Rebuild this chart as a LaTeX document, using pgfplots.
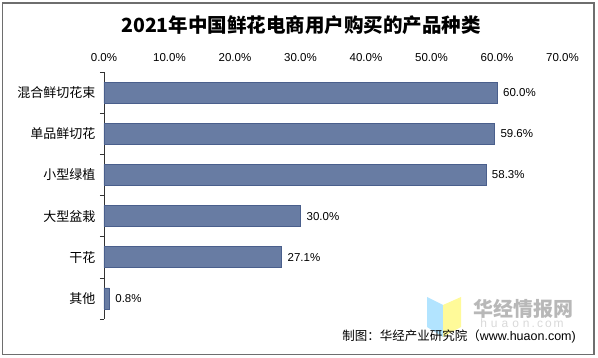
\documentclass[border=0pt]{standalone}
\usepackage{fontspec}
\setmainfont{Liberation Sans}
\newfontfamily\cjk{Noto Sans CJK SC}
\usepackage{pgfplots}
\pgfplotsset{compat=1.18}
\definecolor{barfill}{HTML}{687CA3}
\definecolor{barline}{HTML}{4A5F8C}
\definecolor{frame}{HTML}{6E6E6E}
\begin{document}
\begin{tikzpicture}[x=1pt,y=1pt]
\useasboundingbox (0,0) rectangle (598,358);
\draw[frame, line width=1.2pt] (2.5,3.5) rectangle (594,355);
\node[font=\cjk\bfseries\fontsize{19.5}{22}\selectfont] at (301,333) {2021年中国鲜花电商用户购买的产品种类};
% watermark
\fill[blue!35!cyan!30] (427,61) -- (443,53) -- (443,21) -- (427,31) -- cycle;
\fill[yellow!40] (443,53) -- (461,61) -- (461,31) -- (443,21) -- cycle;
\node[font=\cjk\bfseries\fontsize{20}{22}\selectfont, text=black!28] at (523.5,49.5) {华经情报网};
\node[font=\fontsize{12}{14}\selectfont, text=black!15] at (522,35) {h\,\,u\,\,a\,\,o\,\,n\,.\,c\,o\,m};
\node[anchor=east, font=\fontsize{12.5}{14}\selectfont, inner sep=0pt] at (576,22) {{\cjk 制图：华经产业研究院（}www.huaon.com)};
\begin{axis}[
  at={(104pt,39pt)}, anchor=south west, scale only axis,
  width=458.5pt, height=247pt,
  xbar, bar width=21pt,
  xmin=0, xmax=70, ymin=-0.5, ymax=5.5, y dir=reverse,
  axis x line*=top, axis y line*=left,
  x axis line style={draw=none},
  y axis line style={black!80, line width=0.6pt},
  xtick={0,10,...,70}, xtick style={draw=none},
  xticklabel={\pgfmathprintnumber[assume math mode=true,fixed,fixed zerofill,precision=1]{\tick}\%},
  xticklabel style={font=\fontsize{11.5}{13}\selectfont, yshift=7pt},
  ytick={0,...,5},
  yticklabels={混合鲜切花束,单品鲜切花,小型绿植,大型盆栽,干花,其他},
  yticklabel style={font=\cjk\fontsize{13}{15}\selectfont, xshift=-5pt},
  major tick length=0pt,
  minor ytick={-0.5,0.5,...,5.5},
  minor tick length=4pt,
  tick align=outside,
  ytick style={black!80, line width=0.6pt},
  clip=false,
  point meta=x,
  nodes near coords={\pgfmathprintnumber[assume math mode=true,fixed,fixed zerofill,precision=1]{\pgfplotspointmeta}\%},
  every node near coord/.append style={font=\fontsize{11.5}{13}\selectfont, anchor=west, xshift=2.5pt, text=black},
]
\addplot[fill=barfill, draw=barline, line width=0.6pt] coordinates {(60.0,0) (59.6,1) (58.3,2) (30.0,3) (27.1,4) (0.8,5)};
\end{axis}
\end{tikzpicture}
\end{document}
